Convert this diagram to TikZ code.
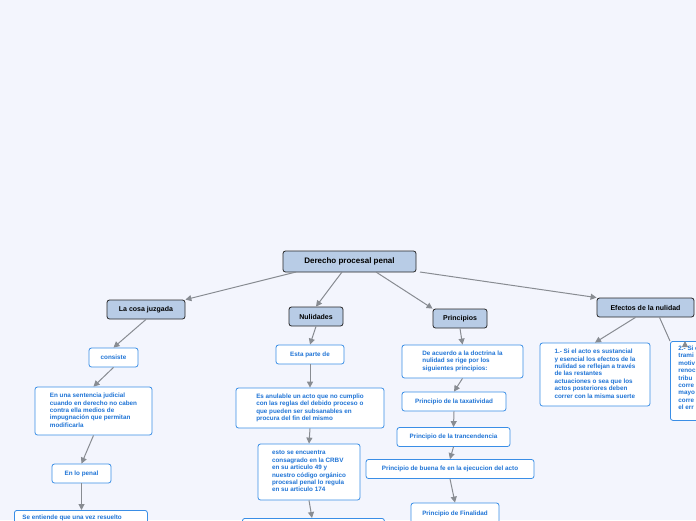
\documentclass[tikz,border=0pt]{standalone}
\usepackage{fontspec}
\setmainfont{Liberation Sans}
\usetikzlibrary{arrows.meta}
\definecolor{bg}{HTML}{F3F5FD}
\definecolor{tb}{HTML}{1F74D6}
\definecolor{bb}{HTML}{3A8EE6}
\definecolor{hf}{HTML}{B8CCE6}
\definecolor{ln}{HTML}{888C92}
\tikzset{
 main/.style={draw=black!85,fill=hf,rounded corners=2.5pt,line width=0.8pt,font=\fontsize{7}{8}\selectfont\bfseries,inner sep=0pt,minimum height=19pt},
 sub/.style={draw=bb,fill=white,rounded corners=2.5pt,line width=0.8pt,text=tb,font=\fontsize{6.3}{7.4}\selectfont\bfseries,inner sep=0pt,minimum height=19pt},
 con/.style={draw=ln,line width=1pt,-{Triangle[length=6pt,width=6pt]}}
}
\begin{document}
\begin{tikzpicture}[x=1pt,y=-1pt]
\fill[bg] (0,0) rectangle (696,520);
\useasboundingbox (0,0) rectangle (696,520);
\clip (0,0) rectangle (696,520);
\node[main,minimum width=133pt,minimum height=21pt,font=\fontsize{8}{9}\selectfont\bfseries] (root) at (349.5,261.5) {Derecho procesal penal};
\node[main,minimum width=78pt] (cj) at (146,309.5) {La cosa juzgada};
\node[main,minimum width=54pt] (nu) at (316,316.5) {Nulidades};
\node[main,minimum width=54pt] (pr) at (460,318.5) {Principios};
\node[main,minimum width=97pt] (ef) at (645.5,307.5) {Efectos de la nulidad};
% left column
\node[sub,minimum width=49pt] (cons) at (113.5,357.5) {consiste};
\node[sub,minimum width=117pt,minimum height=48pt] (sent) at (93.5,411) {\begin{tabular}{@{}l@{}}En una sentencia judicial\\cuando en derecho no caben\\contra ella medios de\\impugnación que permitan\\modificarla\end{tabular}};
\node[sub,minimum width=59pt] (pen) at (81.5,473.5) {En lo penal};
\node[sub,minimum width=133pt,minimum height=30pt,anchor=north west] (se) at (14,510) {};
\node[sub,anchor=north west,draw=none,fill=none,minimum height=0pt] at (22,514.5) {Se entiende que una vez resuelto};
% middle
\node[sub,minimum width=68pt] (esta) at (310,354.5) {Esta parte de};
\node[sub,minimum width=148pt,minimum height=40pt] (anu) at (310,408) {\begin{tabular}{@{}l@{}}Es anulable un acto que no cumplio\\con las reglas del debido proceso o\\que pueden ser subsanables en\\procura del fin del mismo\end{tabular}};
\node[sub,minimum width=102pt,minimum height=56pt] (esto) at (309,472) {\begin{tabular}{@{}l@{}}esto se encuentra\\consagrado en la CRBV\\en su articulo 49 y\\nuestro código orgánico\\procesal penal lo regula\\en su articulo 174\end{tabular}};
\node[sub,minimum width=142pt,minimum height=25pt,anchor=north west] (nx) at (242,518) {};
% principios
\node[sub,minimum width=121pt,minimum height=33pt] (acu) at (462.5,361.5) {\begin{tabular}{@{}l@{}}De acuerdo a la doctrina la\\nulidad se rige por los\\siguientes principios:\end{tabular}};
\node[sub,minimum width=104pt] (tax) at (454,401.5) {Principio de la taxatividad};
\node[sub,minimum width=113pt] (tra) at (453.5,437) {Principio de la trancendencia};
\node[sub,minimum width=168pt] (bue) at (450,469) {Principio de buena fe en la ejecucion del acto};
\node[sub,minimum width=88pt,minimum height=22pt] (fin) at (455,514) {Principio de Finalidad};
% efectos
\node[sub,minimum width=110pt,minimum height=63pt] (e1) at (595,374.5) {\begin{tabular}{@{}l@{}}1.- Si el acto es sustancial\\y esencial los efectos de la\\nulidad se reflejan a través\\de las restantes\\actuaciones o sea que los\\actos posteriores  deben\\correr con la misma suerte\end{tabular}};
\node[sub,minimum width=50pt,minimum height=79pt,anchor=north west] (e2) at (670,341) {};
\node[sub,draw=none,fill=none,anchor=north west] at (678,345) {\begin{tabular}{@{}l@{}}2.- Si el\\trami\\motiv\\renoc\\tribu\\corre\\mayo\\corre\\el err\end{tabular}};
% connectors
\draw[con] (296,272) -- (cj.north east);
\draw[con] (342,272) -- (nu.north);
\draw[con] (376,272) -- (pr.north west);
\draw[con] (420,272) -- (ef.north west);
\draw[con] (cj.south) -- (cons.north);
\draw[con] (cons.south) -- (sent.north);
\draw[con] (sent.south) -- (pen.north);
\draw[con] (pen.south) -- (se.north -| pen.south);
\draw[con] (nu.south) -- (esta.north);
\draw[con] (esta.south) -- (anu.north);
\draw[con] (anu.south) -- (esto.north);
\draw[con] (esto.south) -- (nx.north -| 312,0);
\draw[con] (pr.south) -- (acu.north);
\draw[con] (acu.south) -- (tax.north);
\draw[con] (tax.south) -- (tra.north);
\draw[con] (tra.south) -- (bue.north);
\draw[con] (bue.south) -- (fin.north);
\draw[con] (ef.south) ++(-10,0) -- (e1.north);
\draw[con] (ef.south) ++(14,0) -- (e2.north west) ++(15,0);
\end{tikzpicture}
\end{document}
